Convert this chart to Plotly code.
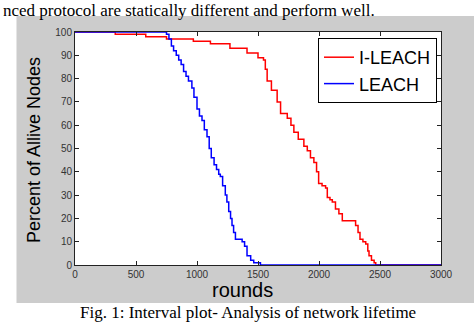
import plotly.graph_objects as go

# ---- data ----
ileach_rounds = [0, 330, 580, 750, 970, 1110, 1270, 1410, 1500, 1545, 1560, 1575, 1610, 1657, 1685,
                 1740, 1770, 1794, 1830, 1876, 1904, 1930, 1958, 1980, 1997, 2025, 2054, 2068, 2090,
                 2109, 2135, 2163, 2191, 2230, 2260, 2300, 2320, 2336, 2360, 2383, 2400, 2410, 2430,
                 2452, 2465, 3000]
ileach_pct = [100, 99, 98, 97, 96, 95, 93, 91, 89, 88, 84, 79, 75, 70, 65,
              63, 60, 57, 54, 51, 49, 46, 44, 40, 35, 34, 33, 29, 28,
              27, 24, 22, 19, 19, 19, 17, 14, 11, 10, 9, 6, 4, 2,
              1, 0, 0]

leach_rounds = [0, 750, 770, 790, 808, 830, 850, 870, 890, 910, 930, 958, 975, 1000, 1020, 1041,
                1060, 1082, 1100, 1117, 1140, 1160, 1178, 1191, 1210, 1232, 1245, 1260, 1275, 1287,
                1300, 1315, 1370, 1390, 1410, 1440, 1465, 1520, 3000]
leach_pct = [100, 99, 97, 94, 92, 90, 88, 86, 83, 81, 79, 76, 72, 67, 64, 62,
             58, 55, 50, 46, 43, 41, 39, 38, 34, 30, 27, 23, 20, 17,
             14, 11, 10, 8, 4, 2, 1, 0, 0]

x_ticks = [0, 500, 1000, 1500, 2000, 2500, 3000]
y_ticks = [0, 10, 20, 30, 40, 50, 60, 70, 80, 90, 100]

W, H = 474, 325
L, R, T, B = 75, 441, 32, 265  # plot area in pixels


def px(x):
    return (x - L) / (R - L)


def py(y):
    return (B - y) / (B - T)


fig = go.Figure()
fig.add_trace(go.Scatter(x=ileach_rounds, y=ileach_pct, mode="lines", name="I-LEACH",
                         line=dict(color="#ff0000", width=1.5, shape="hv")))
fig.add_trace(go.Scatter(x=leach_rounds, y=leach_pct, mode="lines", name="LEACH",
                         line=dict(color="#0000ff", width=1.5, shape="hv")))

axis_common = dict(showline=True, linecolor="#222222", linewidth=1, mirror="ticks",
                   ticks="inside", ticklen=4, tickcolor="#222222", showgrid=False, zeroline=False,
                   tickfont=dict(family="Arial, Liberation Sans", size=10, color="#333333"))

fig.update_xaxes(range=[0, 3000], tickvals=x_ticks, **axis_common)
fig.update_yaxes(range=[0, 100], tickvals=y_ticks, **axis_common)

shapes = [
    dict(type="rect", xref="paper", yref="paper", x0=px(16.5), x1=px(480), y0=py(303), y1=py(16),
         fillcolor="#cccccc", line=dict(width=0), layer="below"),
    dict(type="rect", xref="paper", yref="paper", x0=0, x1=1, y0=0, y1=1,
         fillcolor="#ffffff", line=dict(width=0), layer="below"),
]

annotations = [
    dict(text="nced protocol are statically different and perform well.", xref="paper", yref="paper",
         x=px(1), y=py(10), xanchor="left", yanchor="middle", showarrow=False,
         font=dict(family="Liberation Serif", size=17, color="#000000")),
    dict(text="Fig. 1: Interval plot- Analysis of network lifetime", xref="paper", yref="paper",
         x=px(248), y=py(312), xanchor="center", yanchor="middle", showarrow=False,
         font=dict(family="Liberation Serif", size=17, color="#000000")),
    dict(text="rounds", xref="paper", yref="paper", x=px(242), y=py(290), xanchor="center",
         yanchor="middle", showarrow=False,
         font=dict(family="Arial, Liberation Sans", size=20, color="#000000")),
    dict(text="Percent of Allive Nodes", xref="paper", yref="paper", x=px(34), y=py(150),
         xanchor="center", yanchor="middle", textangle=-90, showarrow=False,
         font=dict(family="Arial, Liberation Sans", size=18, color="#000000")),
]

fig.update_layout(
    width=W, height=H,
    margin=dict(l=L, r=W - R, t=T, b=H - B, pad=0),
    paper_bgcolor="#ffffff", plot_bgcolor="#ffffff",
    shapes=shapes, annotations=annotations,
    showlegend=True,
    legend=dict(x=px(437), y=py(38), xanchor="right", yanchor="top",
                bgcolor="#ffffff", bordercolor="#000000", borderwidth=1,
                font=dict(family="Arial, Liberation Sans", size=18, color="#000000"),
                tracegroupgap=0, itemwidth=30),
)

fig.write_html("out.html")
